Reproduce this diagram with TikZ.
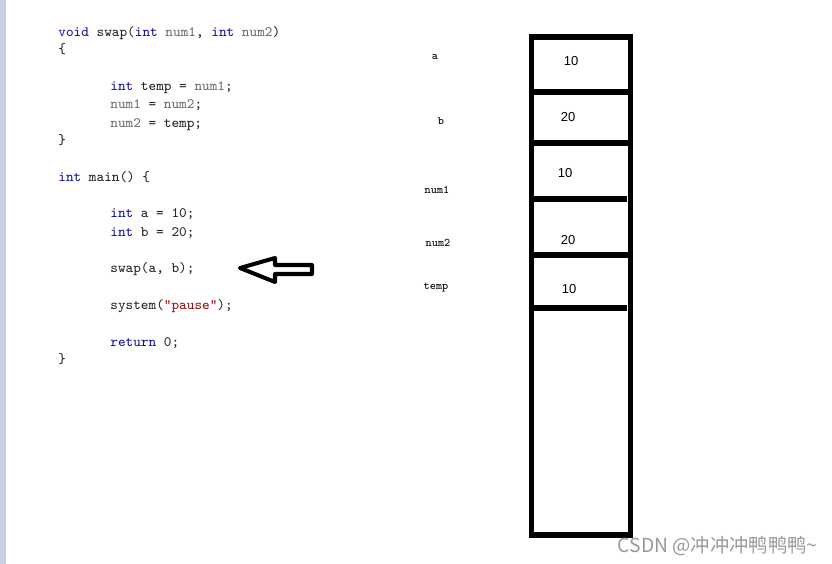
\documentclass[tikz,border=0pt]{standalone}
\usepackage{fontspec}
\newfontfamily\valfont{Liberation Sans}
\newfontfamily\cjk{Noto Sans CJK SC}
\definecolor{kwblue}{RGB}{20,20,150}
\definecolor{strred}{RGB}{150,20,20}
\definecolor{prmgray}{RGB}{110,110,110}
\definecolor{sidebar}{RGB}{200,208,225}
\newcommand{\kw}[1]{\textcolor{kwblue}{#1}}
\newcommand{\prm}[1]{\textcolor{prmgray}{#1}}

\begin{document}
\begin{tikzpicture}[x=0.02cm, y=-0.02cm]
\tikzset{codeline/.style={anchor=base west, inner sep=0pt, font=\ttfamily\fontsize{8.2}{10}\selectfont, text=black!85},
  varname/.style={inner sep=0pt, font=\ttfamily\fontsize{6.6}{8}\selectfont},
  cellval/.style={inner sep=0pt, font=\valfont\fontsize{7.4}{9}\selectfont},
  stackline/.style={line width=2.85pt}}
\useasboundingbox (0,0) rectangle (832,564);
\fill[sidebar] (0,0) rectangle (6,564);
% code
\node[codeline] (L1) at (58,37) {\kw{void} swap(\kw{int} \prm{num1}, \kw{int} \prm{num2})};
\node[codeline] (L2) at (58,54) {\{};
\node[codeline] (L3) at (110,91) {\kw{int} temp = \prm{num1};};
\node[codeline] (L4) at (110,109) {\prm{num1} = \prm{num2};};
\node[codeline] (L5) at (110,128) {\prm{num2} = temp;};
\node[codeline] (L6) at (58,145) {\}};
\node[codeline] (L7) at (58,182) {\kw{int} main() \{};
\node[codeline] (L8) at (110,218) {\kw{int} a = 10;};
\node[codeline] (L9) at (110,237) {\kw{int} b = 20;};
\node[codeline] (L10) at (110,273) {swap(a, b);};
\node[codeline] (L11) at (110,310) {system(\textcolor{strred}{"pause"});};
\node[codeline] (L12) at (110,346) {\kw{return} 0;};
\node[codeline] (L13) at (58,363) {\}};
% arrow
\draw[line width=2.3pt, line join=round] (240,268) -- (275,258) -- (275,265) -- (312,265)
  -- (312,274) -- (275,274) -- (275,282) -- cycle;
% stack
\draw[stackline] (531,37) rectangle (630,535);
\draw[stackline] (531,92) -- (630,92);
\draw[stackline] (531,143) -- (630,143);
\draw[stackline] (531,199) -- (627,199);
\draw[stackline] (531,255) -- (633,255);
\draw[stackline] (531,308) -- (627,308);
\node[cellval] (va) at (571,61) {10};
\node[cellval] (vb) at (568,117) {20};
\node[cellval] (vn1) at (565,173) {10};
\node[cellval] (vn2) at (568,240) {20};
\node[cellval] (vt) at (569,289) {10};
\node[varname] (na) at (435,57) {a};
\node[varname] (nb) at (441,121) {b};
\node[varname] (nn1) at (437,190) {num1};
\node[varname] (nn2) at (438,243) {num2};
\node[varname] (nt) at (436,288) {temp};
% watermark
\node[anchor=east, inner sep=0pt, text=black!40, font=\cjk\fontsize{11}{13}\selectfont] (wm) at (818,546) {CSDN @冲冲冲鸭鸭鸭\textasciitilde};
\end{tikzpicture}
\end{document}
